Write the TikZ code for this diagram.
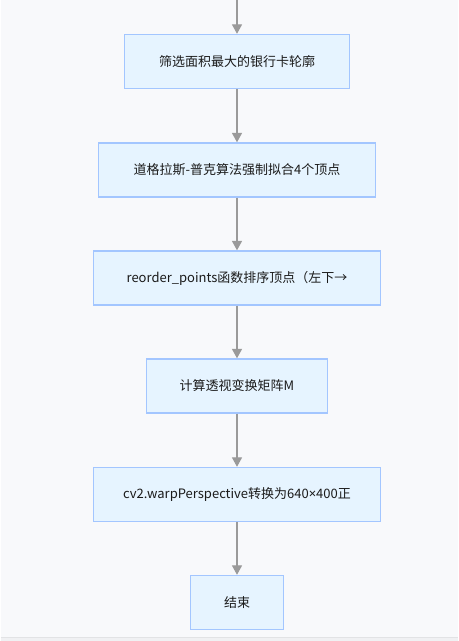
\documentclass[tikz,border=0pt]{standalone}
\usepackage{fontspec}
\setmainfont{Noto Sans CJK SC}
\newfontfamily\latfont{Noto Sans}
\usetikzlibrary{arrows.meta}
\definecolor{bg}{HTML}{F8F9FB}
\definecolor{boxfill}{HTML}{E6F4FF}
\definecolor{boxline}{HTML}{A3C6FF}
\definecolor{arrowgray}{HTML}{9A9A9A}
\definecolor{txtcol}{HTML}{1A1A1A}
\definecolor{stripline}{HTML}{E2E3E5}
\definecolor{stripfill}{HTML}{F0F1F3}
\begin{document}
\begin{tikzpicture}[x=0.75pt,y=-0.75pt,
  box/.style={draw=boxline, fill=boxfill, line width=1.1pt, minimum height=40.5pt, inner sep=0pt,
    text=txtcol, font=\fontsize{9.75pt}{12pt}\selectfont},
  arr/.style={draw=arrowgray, line width=0.8pt, -{Triangle[width=7.5pt,length=7pt]}}]
\fill[bg] (0,0) rectangle (457,641);
\fill[stripfill] (0,637) rectangle (457,641);
\draw[stripline, line width=0.75pt] (0,637) -- (457,637);
\useasboundingbox (0,0) rectangle (457,641);

\coordinate (top) at (236.5,0);
\node[box, minimum width=168.75pt] (b1) at (236.5,61.5) {筛选面积最大的银行卡轮廓};
\node[box, minimum width=207.75pt] (b2) at (236.5,170) {道格拉斯-普克算法强制拟合4个顶点};
\node[box, minimum width=215.25pt] (b3) at (236.5,278) {reorder\_points函数排序顶点（左下→};
\node[box, minimum width=135.75pt] (b4) at (236.5,386) {计算透视变换矩阵M};
\node[box, minimum width=215.25pt] (b5) at (236.5,494.5) {cv2.warpPerspective转换为640{\latfont ×}400正};
\node[box, minimum width=69.75pt] (b6) at (236.5,602.5) {结束};

\draw[arr] (top) -- (b1.north);
\draw[arr] (b1) -- (b2);
\draw[arr] (b2) -- (b3);
\draw[arr] (b3) -- (b4);
\draw[arr] (b4) -- (b5);
\draw[arr] (b5) -- (b6);
\end{tikzpicture}
\end{document}
